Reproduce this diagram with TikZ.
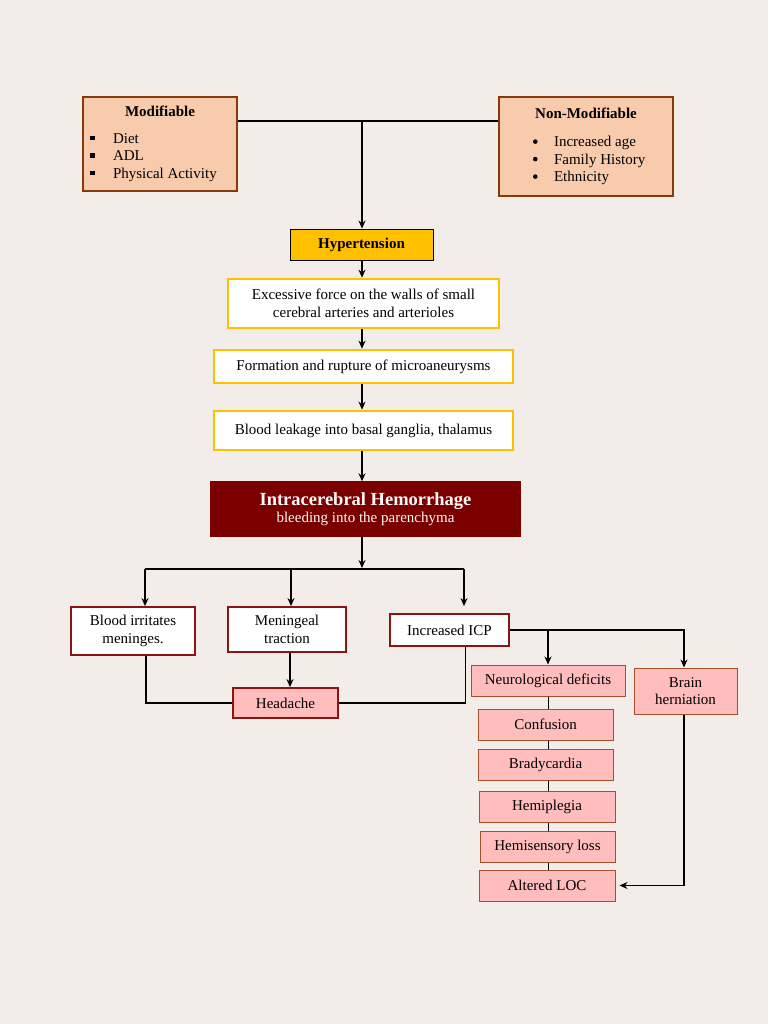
\documentclass[tikz,border=0pt]{standalone}
\usepackage{fontspec}
\setmainfont{Liberation Serif}
\usetikzlibrary{arrows.meta}
\definecolor{paper}{HTML}{F2EDE9}
\definecolor{peach}{HTML}{F8CBAD}
\definecolor{riskline}{HTML}{843C0C}
\definecolor{gold}{HTML}{FFC000}
\definecolor{ichred}{HTML}{7A0000}
\definecolor{dred}{HTML}{8E1414}
\definecolor{pinkbox}{HTML}{FFBDBD}
\definecolor{signline}{HTML}{A5502A}
\newcommand{\sqbul}{\makebox[23pt][l]{\rule[3pt]{4.5pt}{4.5pt}}}
\newcommand{\rdbul}{\hspace*{27pt}\makebox[21pt][l]{\raisebox{3pt}{\tikz\fill (0,0) circle (2.3pt);}}}
\begin{document}
\begin{tikzpicture}[x=1pt, y=-1pt, >={Stealth[length=8pt,width=7pt]}, line width=1.4pt,
    font=\fontsize{15}{17.5}\selectfont,
    box/.style={draw, rectangle, inner sep=2pt, align=center},
    risk/.style={box, fill=peach, draw=riskline, line width=1.2pt, align=flush left},
    goldbox/.style={box, fill=white, draw=gold, line width=2.6pt},
    cause/.style={box, fill=white, draw=dred, line width=1.8pt},
    sign/.style={box, fill=pinkbox, draw=signline, line width=1pt}]
  \fill[paper] (0,0) rectangle (768,1024);
  \useasboundingbox (0,0) rectangle (768,1024);

  \node[risk, minimum width=154, minimum height=94, text width=140] (mod) at (160,144)
    {\makebox[\linewidth]{\textbf{Modifiable}}\\[9pt]
     \sqbul Diet\\ \sqbul ADL\\ \sqbul Physical Activity};
  \node[risk, minimum width=174, minimum height=99, text width=160] (nonmod) at (586,146.5)
    {\makebox[\linewidth]{\textbf{Non-Modifiable}}\\[11pt]
     \rdbul Increased age\\ \rdbul Family History\\ \rdbul Ethnicity\\[4pt]};

  \node[box, fill=gold, line width=0.8pt, minimum width=143, minimum height=31] (hyp) at (361.5,244.5)
    {\textbf{Hypertension}};
  \node[goldbox, minimum width=271, minimum height=49] (exc) at (363.5,303.5)
    {Excessive force on the walls of small\\cerebral arteries and arterioles};
  \node[goldbox, minimum width=299, minimum height=33] (form) at (363.5,366.5)
    {Formation and rupture of microaneurysms};
  \node[goldbox, minimum width=299, minimum height=39] (leak) at (363.5,430.5)
    {Blood leakage into basal ganglia, thalamus};
  \node[box, fill=ichred, draw=ichred, text=white!92!pink, minimum width=309, minimum height=54] (ich) at (365.5,509)
    {{\fontsize{18.5}{20}\selectfont\bfseries Intracerebral Hemorrhage}\\bleeding into the parenchyma};

  \node[cause, minimum width=124, minimum height=48] (blood) at (133,631) {Blood irritates\\meninges.};
  \node[cause, minimum width=118, minimum height=45] (mening) at (287,629.5) {Meningeal\\traction};
  \node[cause, minimum width=119, minimum height=32] (icp) at (449.5,630) {Increased ICP};
  \node[box, fill=pinkbox, draw=dred, line width=1.8pt, minimum width=105, minimum height=30] (head) at (285.5,703) {Headache};

  \node[sign, minimum width=154, minimum height=31] (neuro) at (548,680.5) {Neurological deficits};
  \node[sign, minimum width=103, minimum height=46] (brain) at (685.5,691) {Brain\\herniation};
  \node[sign, minimum width=135, minimum height=31] (conf) at (545.5,724.5) {Confusion};
  \node[sign, minimum width=135, minimum height=31] (brady) at (545.5,764.5) {Bradycardia};
  \node[sign, minimum width=136, minimum height=31] (hemi) at (547,806.5) {Hemiplegia};
  \node[sign, minimum width=135, minimum height=31] (sens) at (547.5,846.5) {Hemisensory loss};
  \node[sign, minimum width=136, minimum height=31] (alt) at (547,885.5) {Altered LOC};

  \coordinate (rf) at (362,121);
  \draw (mod.east |- rf) -- (nonmod.west |- rf);
  \draw[->] (rf) -- (rf |- hyp.north);
  \draw[->] (rf |- hyp.south) -- (rf |- exc.north);
  \draw[->] (rf |- exc.south) -- (rf |- form.north);
  \draw[->] (rf |- form.south) -- (rf |- leak.north);
  \draw[->] (rf |- leak.south) -- (rf |- ich.north);

  \coordinate (sp) at (362,569);
  \coordinate (sl) at (145,569);
  \coordinate (sr) at (464,569);
  \draw[->] (ich.south -| sp) -- ([yshift=1pt]sp);
  \draw (sl) -- (sr);
  \draw[->] (sl) -- (sl |- blood.north);
  \draw[->] (sp -| 291,0) -- (291,0 |- mening.north);
  \draw[->] (sr) -- ([yshift=7pt]sr |- icp.north);
  \draw[->] (mening.south -| 290,0) -- (290,0 |- head.north);
  \draw ([xshift=13pt]blood.south) |- (head.west);
  \draw ([xshift=16pt]icp.south) |- (head.east);

  \draw[->] (icp.east) -| (brain.north -| 684,0);
  \draw[->] (icp.east -| neuro.north) -- (neuro.north);
  \foreach \a/\b in {neuro/conf, conf/brady, brady/hemi, hemi/sens, sens/alt}
    \draw[line width=1pt] (\a.south -| neuro) -- (\b.north -| neuro);
  \draw[->] (brain.south -| 684,0) |- ([xshift=4pt]alt.east);
\end{tikzpicture}
\end{document}
